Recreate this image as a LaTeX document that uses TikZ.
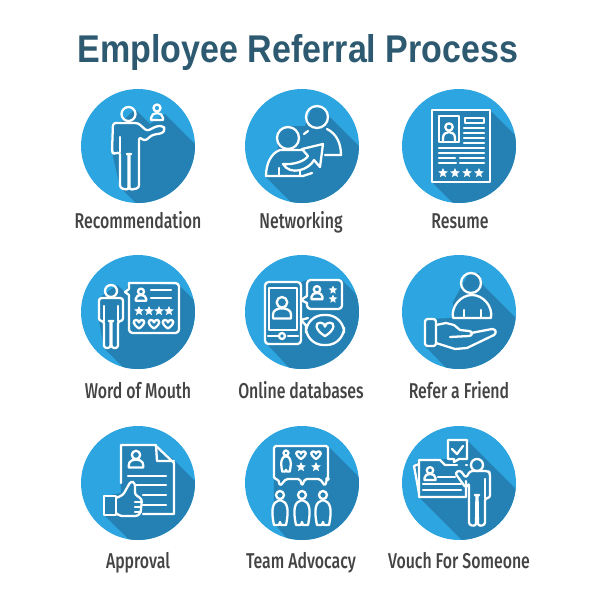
\documentclass[tikz,border=0pt]{standalone}
\usepackage{fontspec}
\setmainfont{Liberation Sans}
\newfontfamily\titlefont[FakeStretch=0.88]{Liberation Sans}
\newfontfamily\captionfont[FakeStretch=0.74]{Fira Sans Medium}
\definecolor{discblue}{HTML}{2DA5E0}
\definecolor{shadeblue}{HTML}{2581B3}
\definecolor{titleblue}{HTML}{2D5A70}
\definecolor{captiongray}{HTML}{444444}
\tikzset{
  iconline/.style={draw=white,line width=1.3pt,line join=round,line cap=round},
  captiontext/.style={anchor=base,text=captiongray,font=\captionfont\fontsize{12.2}{14}\selectfont,inner sep=0pt},
  bustmark/.pic={
    \draw[iconline] (0,-5.5) circle (3.8);
    \draw[iconline] (-6.5,6) -- (-6.5,3.5) .. controls (-6.5,0) and (-3,-1.2) .. (0,-1.2)
      .. controls (3,-1.2) and (6.5,0) .. (6.5,3.5) -- (6.5,6) -- cycle;
  },
  starmark/.pic={
    \fill[white] (-90:5) -- (-54:2.3) -- (-18:5) -- (18:2.3) -- (54:5) -- (90:2.3)
      -- (126:5) -- (162:2.3) -- (198:5) -- (234:2.3) -- cycle;
  },
  heartmark/.pic={
    \draw[iconline] (0,4.5) .. controls (-7,0) and (-6,-4) .. (-3,-4) .. controls (-1.5,-4) and (0,-3) .. (0,-1.5)
      .. controls (0,-3) and (1.5,-4) .. (3,-4) .. controls (6,-4) and (7,0) .. (0,4.5) -- cycle;
  },
  eggmark/.pic={
    \draw[iconline] (0,0) circle (4);
    \draw[iconline] (-1.5,5.5) .. controls (-7,7) and (-9.5,14) .. (-6,30) -- (-1,30) -- (0,27) -- (1,30) -- (6,30)
      .. controls (9.5,14) and (7,7) .. (1.5,5.5) -- cycle;
  },
  figuremark/.pic={
    \draw[iconline] (0,-21) circle (6);
    \draw[iconline,rounded corners=1.5pt] (-12,-14) -- (12,-14) -- (12,9) -- (7,9) -- (7,36) -- (0.5,36) -- (0.5,9)
      -- (-0.5,9) -- (-0.5,36) -- (-7,36) -- (-7,9) -- (-12,9) -- cycle;
    \draw[iconline] (7,9) -- (7,-6) (-7,9) -- (-7,-6);
  }
}
\newcommand{\icondisc}[1]{
  \fill[discblue] (0,0) circle (57);
  \begin{scope}
    \clip (0,0) circle (57);
    \fill[shadeblue] #1 -- cycle;
  \end{scope}
}
\begin{document}
\begin{tikzpicture}[x=0.02cm,y=-0.02cm]
  \fill[white] (0,0) rectangle (600,600);
  \useasboundingbox (0,0) rectangle (600,600);
  %title
  \node[anchor=base,text=titleblue,font=\titlefont\bfseries\fontsize{22}{26}\selectfont,inner sep=0pt] (heading) at (298,62) {Employee Referral Process};
  %captions
  \node[captiontext] (recommendLabel) at (138,228) {Recommendation};
  \node[captiontext] (networkLabel) at (301,228) {Networking};
  \node[captiontext] (resumeLabel) at (460,228) {Resume};
  \node[captiontext] (mouthLabel) at (138,398) {Word of Mouth};
  \node[captiontext] (onlineLabel) at (301,398) {Online databases};
  \node[captiontext] (friendLabel) at (459,398) {Refer a Friend};
  \node[captiontext] (approvalLabel) at (138,568) {Approval};
  \node[captiontext] (teamLabel) at (301,568) {Team Advocacy};
  \node[captiontext] (vouchLabel) at (459,568) {Vouch For Someone};
  %recommendation
  \begin{scope}[shift={(138,146)}]
    \icondisc{(-18,41) -- (-26,6) -- (-26,-23) -- (-15,-25) -- (-3,-37) -- (12,-22) -- (27,-32) -- (90,31) -- (30,89)}
    \draw[iconline] (-9.5,-32) circle (7);
    \draw[iconline,rounded corners=1.5pt] (-25,-23) -- (0,-23) -- (9,-15) -- (19,-20) -- (25,-20) -- (27,-17) -- (25,-13)
      -- (14,-11) -- (7,-5) -- (1,-9) -- (1,42) -- (-8.5,44) -- (-8.5,8) -- (-9.5,8) -- (-9.5,44) -- (-18,42) -- (-18,6)
      -- (-24,8) -- (-26,6) -- cycle;
    \draw[iconline] (-18,6) -- (-18,-9);
    \draw[iconline] (19,-38) circle (3.5);
    \draw[iconline] (13,-26) -- (13,-28) .. controls (13,-31) and (16,-33) .. (19,-33)
      .. controls (22,-33) and (25,-31) .. (25,-28) -- (25,-26) -- cycle;
  \end{scope}
  %networking
  \begin{scope}[shift={(302,146)}]
    \icondisc{(-36,31) -- (-36,20) -- (-24,2) -- (-25,-15) -- (-14,-20) -- (3,-20) -- (10,-38) -- (22,-38) -- (28,-29) -- (90,33) -- (10,77)}
    \draw[iconline] (15,-29) circle (11);
    \draw[iconline] (-14,-8) circle (11);
    \draw[iconline] (2,-12) -- (6,-15);
    \draw[iconline] (25,-17) .. controls (35,-12) and (39,-2) .. (39,9) -- (23,9);
    \draw[iconline] (0,4) -- (-22,4) .. controls (-31,7) and (-36,18) .. (-36,30) -- (1,30) -- (10,27);
    \draw[iconline] (-23,22) -- (-23,30) (-2,25) -- (-2,30);
    \draw[iconline] (-19,18) .. controls (-8,19) and (3,15) .. (6,10) -- (0,3) -- (21,-2) -- (18,21) -- (12,14)
      .. controls (7,24) and (-12,30) .. (-19,18) -- cycle;
  \end{scope}
  %resume
  \begin{scope}[shift={(459,146)}]
    \icondisc{(-27,36) -- (-27,-36) -- (31,-36) -- (90,23) -- (25,88)}
    \draw[iconline] (-27,-36) rectangle (31,36);
    \draw[iconline] (-20,-30) rectangle (0,-4);
    \draw[iconline] (-10,-19) circle (3.7);
    \draw[iconline] (-16,-4) -- (-16,-8) .. controls (-16,-12) and (-13,-14) .. (-10,-14)
      .. controls (-7,-14) and (-4,-12) .. (-4,-8) -- (-4,-4);
    \draw[iconline] (6,-28) rectangle (25,-23);
    \foreach \liney in {-18,-13,-8,-3}
      \draw[iconline] (5,\liney) -- (25,\liney);
    \foreach \liney in {2,7}
      \draw[iconline] (-20,\liney) -- (25,\liney);
    \draw[iconline] (-20,12) -- (-4,12) (-3,17) -- (-20,17) (1,12) -- (25,12) (1,17) -- (25,17);
    \foreach \starx in {-16,-4,8,20}
      \pic at (\starx,27) {starmark};
  \end{scope}
  %word of mouth
  \begin{scope}[shift={(138,312)}]
    \icondisc{(-34,36) -- (-39,9) -- (-39,-14) -- (-21,-27) -- (-13,-20) -- (-9,-29) -- (41,-27) -- (90,22) -- (10,80)}
    \pic at (-27,0) {figuremark};
    \draw[iconline,rounded corners=2pt] (-9,-29) -- (41,-29) -- (41,21) -- (-9,21) -- (-9,-17);
    \draw[iconline] (-9,-17) -- (-13,-20) -- (-9,-23) -- (-9,-29);
    \pic[scale=.8] at (3,-16) {bustmark};
    \draw[iconline] (13,-22) -- (33,-22) (13,-14) -- (33,-14);
    \foreach \starx in {1,11,21,31}
      \pic at (\starx,-1) {starmark};
    \foreach \heartx in {1,16,30}
      \pic at (\heartx,12) {heartmark};
  \end{scope}
  %online databases
  \begin{scope}[shift={(302,312)}]
    \icondisc{(-37,30) -- (-37,-30) -- (-1,-30) -- (5,-32) -- (40,-32) -- (90,18) -- (10,80)}
    \draw[iconline] (-37,-30) [rounded corners=2pt] rectangle (-1,32);
    \draw[iconline] (-33,-24) rectangle (-5,18);
    \pic[scale=1.4] at (-20,-2) {bustmark};
    \draw[iconline] (-20,24) circle (3);
    \draw[iconline] (-34,24) -- (-24,24) (-14,24) -- (-4,24);
    \draw[iconline,rounded corners=2pt] (5,-16) -- (5,-32) -- (40,-32) -- (40,-3) -- (5,-3) -- (5,-9);
    \draw[iconline] (5,-16) -- (-1,-12) -- (5,-9);
    \pic[scale=.85] at (15,-18) {bustmark};
    \pic[scale=.9] at (31,-22) {starmark};
    \pic[scale=.9] at (31,-13) {starmark};
    \draw[iconline,rounded corners=10pt] (4,13) -- (4,3) -- (42,3) -- (42,33) -- (4,33) -- (4,13);
    \draw[iconline] (-1,8) -- (6,6) (-1,8) -- (4.5,14);
    \pic[scale=1.6] at (23,17) {heartmark};
  \end{scope}
  %refer a friend
  \begin{scope}[shift={(459,312)}]
    \icondisc{(-34,34) -- (-34,7) -- (-6,6) -- (-6,-10) -- (2,-25) -- (10,-39) -- (20,-39) -- (24,-27) -- (90,39) -- (20,90)}
    \draw[iconline] (12,-29) circle (10);
    \draw[iconline] (-6,6) .. controls (-8,-6) and (2,-17) .. (13,-17) .. controls (24,-17) and (34,-6) .. (32,6) -- cycle;
    \draw[iconline] (5,-2) -- (5,6) (22,-2) -- (22,6);
    \draw[iconline,rounded corners=1.5pt] (-34,7) rectangle (-23,34);
    \draw[iconline] (-23,13) -- (-13,11) -- (-5,13) -- (1,18) -- (10,19) .. controls (14,19) and (14,24) .. (10,24) -- (-9,25);
    \draw[iconline] (12,21) -- (33,17) .. controls (37,17) and (38,21) .. (35,23) -- (8,36) -- (-4,37) -- (-23,31);
  \end{scope}
  %approval
  \begin{scope}[shift={(138,483)}]
    \icondisc{(-34,32) -- (-34,13) -- (-17,10) -- (-17,-38) -- (17,-38) -- (36,-23) -- (90,31) -- (25,90)}
    \draw[iconline] (-17,0) -- (-17,-38) -- (17,-38) -- (36,-20) -- (36,31) -- (5,31);
    \draw[iconline] (18,-38) -- (19,-22) -- (36,-22);
    \pic[scale=1.1] at (-2,-22) {bustmark};
    \draw[iconline] (-10,-7) -- (28,-7) (-2,2) -- (28,2) (5,12) -- (28,12) (5,22) -- (28,22);
    \draw[iconline] (-34,13) rectangle (-22,32);
    \draw[iconline,rounded corners=1.5pt] (-22,15) -- (-15,12) -- (-10,3) -- (-7,-2) -- (-3,0) -- (-3,12) -- (3,15)
      -- (4,19) -- (3,24) -- (3,29) -- (0,33) -- (-18,33) -- (-22,30);
    \draw[iconline] (-3,19) -- (4,19) (-3,24) -- (3,24) (-3,29) -- (3,29);
  \end{scope}
  %team advocacy
  \begin{scope}[shift={(302,483)}]
    \icondisc{(-28,40) -- (-28,-37) -- (26,-37) -- (90,27) -- (20,98)}
    \draw[iconline,rounded corners=1pt] (-28,-37) -- (26,-37) -- (26,-4) -- (25,-4) -- (23,3) -- (18,-4) -- (3,-4) -- (0,3)
      -- (-2,-4) -- (-16,-4) -- (-22,3) -- (-24,-4) -- (-28,-4) -- cycle;
    \pic[scale=.62] at (-16,-30) {eggmark};
    \foreach \heartx in {-1,14}
      \pic[scale=.9] at (\heartx,-28) {heartmark};
    \foreach \starx in {-1,14}
      \pic at (\starx,-16) {starmark};
    \foreach \figx in {-22,0,21}
      \pic at (\figx,12) {eggmark};
  \end{scope}
  %vouch for someone
  \begin{scope}[shift={(459,483)}]
    \icondisc{(-40,14) -- (-45,-17) -- (-40,-23) -- (-11,-24) -- (-11,-43) -- (8,-43) -- (90,39) -- (30,84)}
    \draw[iconline] (-11,-43) -- (8,-43) -- (8,-24) -- (0,-24) -- (-5,-21) -- (-5,-24) -- (-11,-24) -- cycle;
    \draw[iconline] (-7,-34) -- (-2,-29) -- (4,-37);
    \draw[iconline] (-10,-18) -- (-14,-18) -- (-19,-23) -- (-40,-23) -- (-40,14) -- (7,14) -- (7,-2);
    \draw[iconline] (-14,-18) -- (-2,-18) (7,-18) -- (8,-18);
    \draw[iconline] (-40,-19) -- (-45,-17) -- (-40,10);
    \pic[scale=.85] at (-29,-8) {bustmark};
    \draw[iconline] (-21,-6) -- (-4,-6) (-36,1) -- (2,1) (-36,7) -- (2,7);
    \draw[iconline] (18,-18) circle (6);
    \draw[iconline,rounded corners=1.5pt] (11,-12) -- (29,-12) -- (31,-10) -- (31,15) -- (26,15) -- (26,42) -- (19,43)
      -- (18.5,12) -- (17.5,12) -- (17,43) -- (10,42) -- (10,0) -- (7,5) -- (-4,-10) -- (1,-13) -- (7,-5) -- cycle;
    \draw[iconline] (26,15) -- (26,-4);
  \end{scope}
\end{tikzpicture}
\end{document}
